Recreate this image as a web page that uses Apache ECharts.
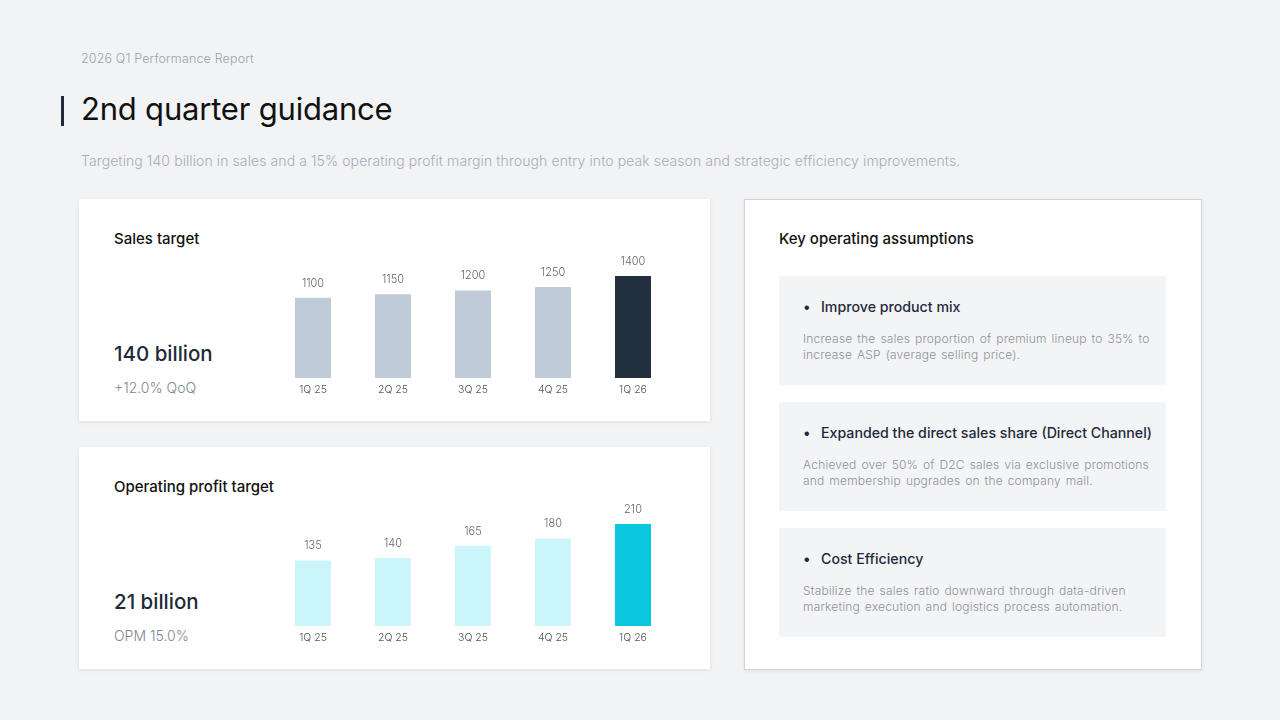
<!DOCTYPE html>
<html>
<head>
<meta charset="utf-8">
<script src="https://cdn.jsdelivr.net/npm/echarts@6/dist/echarts.min.js"></script>
<style>
  html, body { margin: 0; padding: 0; }
  body {
    width: 1280px; height: 720px; position: relative; overflow: hidden;
    background: #f2f3f5; font-family: Inter, "Noto Sans", sans-serif;
  }
  .abs { position: absolute; }
  .kicker { left: 81px; top: 51px; font-size: 12.5px; font-weight: 300; letter-spacing: 0.15px; color: #9ea2a9; }
  .titlebar { left: 61px; top: 96px; width: 3px; height: 30px; background: #1f2a3a; }
  .title { left: 81px; top: 90px; font-size: 31px; color: #111; letter-spacing: -0.2px; }
  .sub { left: 81px; top: 152px; font-size: 14px; font-weight: 300; letter-spacing: 0.09px; color: #a9adb3; }
  .card { background: #fff; box-shadow: 0 1px 4px rgba(0,0,0,0.09); }
  .card h3 { position: absolute; left: 35px; top: 30px; margin: 0; font-size: 15px; font-weight: 500; color: #111; }
  .big { position: absolute; left: 35px; font-size: 20.5px; font-weight: 500; color: #1f2a3a; }
  .small { position: absolute; left: 35px; font-size: 14px; font-weight: 300; color: #80858c; }
  .right { border: 1px solid #cdd4de; box-shadow: 0 1px 4px rgba(0,0,0,0.08); }
  .right h3 { left: 34px; top: 29px; }
  .box { position: absolute; left: 34px; width: 387px; height: 109px; background: #f3f4f6; }
  .box .bt { position: absolute; left: 24px; top: 22px; font-size: 14.2px; font-weight: 500; color: #1f2a3a; }
  .box .bt span { display: inline-block; width: 18px; }
  .box .bd { position: absolute; left: 24px; top: 55px; width: 354px; font-size: 12px; line-height: 16px; font-weight: 300; letter-spacing: 0.2px; word-spacing: 1.3px; color: #8e929a; }
</style>
</head>
<body>
<div class="abs kicker">2026 Q1 Performance Report</div>
<div class="abs titlebar"></div>
<div class="abs title">2nd quarter guidance</div>
<div class="abs sub">Targeting 140 billion in sales and a 15% operating profit margin through entry into peak season and strategic efficiency improvements.</div>

<div class="abs card" style="left:79px;top:199px;width:631px;height:222px;">
  <h3>Sales target</h3>
  <div class="big" style="top:142px;">140 billion</div>
  <div class="small" style="top:180px;">+12.0% QoQ</div>
</div>
<div class="abs card" style="left:79px;top:447px;width:631px;height:222px;">
  <h3>Operating profit target</h3>
  <div class="big" style="top:142px;">21 billion</div>
  <div class="small" style="top:180px;">OPM 15.0%</div>
</div>
<div id="salesChart" class="abs" style="left:253px;top:240px;width:440px;height:170px;"></div>
<div id="profitChart" class="abs" style="left:253px;top:488px;width:440px;height:170px;"></div>

<div class="abs card right" style="left:744px;top:199px;width:456px;height:469px;">
  <h3>Key operating assumptions</h3>
  <div id="boxes"></div>
</div>

<script>
var quarters = ['1Q 25', '2Q 25', '3Q 25', '4Q 25', '1Q 26'];
var salesValues = [1100, 1150, 1200, 1250, 1400];
var profitValues = [135, 140, 165, 180, 210];

var assumptionTitles = [
  'Improve product mix',
  'Expanded the direct sales share (Direct Channel)',
  'Cost Efficiency'
];
var assumptionTexts = [
  'Increase the sales proportion of premium lineup to 35% to increase ASP (average selling price).',
  'Achieved over 50% of D2C sales via exclusive promotions and membership upgrades on the company mall.',
  'Stabilize the sales ratio downward through data-driven marketing execution and logistics process automation.'
];

// 右侧说明框
var boxesHtml = '';
for (var i = 0; i < assumptionTitles.length; i++) {
  boxesHtml += '<div class="box" style="top:' + (76 + i * 126) + 'px;">' +
    '<div class="bt"><span>•</span>' + assumptionTitles[i] + '</div>' +
    '<div class="bd">' + assumptionTexts[i] + '</div></div>';
}
document.getElementById('boxes').innerHTML = boxesHtml;

function barOption(values, baseColor, lastColor) {
  var data = values.map(function (v, i) {
    return { value: v, itemStyle: { color: i == values.length - 1 ? lastColor : baseColor } };
  });
  return {
    animation: false,
    grid: { left: 20, width: 400, top: 36, height: 102 },
    xAxis: {
      type: 'category',
      data: quarters,
      axisLine: { show: false },
      axisTick: { show: false },
      axisLabel: { color: '#555', fontSize: 10.5, fontWeight: 300, margin: 6, fontFamily: 'Inter' }
    },
    yAxis: { type: 'value', min: 0, max: Math.max.apply(null, values), show: false, splitLine: { show: false } },
    series: [{
      type: 'bar',
      barWidth: 36,
      data: data,
      label: { show: true, position: 'top', distance: 9, color: '#666', fontSize: 11, fontWeight: 300, fontFamily: 'Inter' }
    }]
  };
}

var salesChart = echarts.init(document.getElementById('salesChart'));
salesChart.setOption(barOption(salesValues, '#bfcbd9', '#222f3e'));
var profitChart = echarts.init(document.getElementById('profitChart'));
profitChart.setOption(barOption(profitValues, '#c9f5fb', '#0bc8de'));
</script>
</body>
</html>
